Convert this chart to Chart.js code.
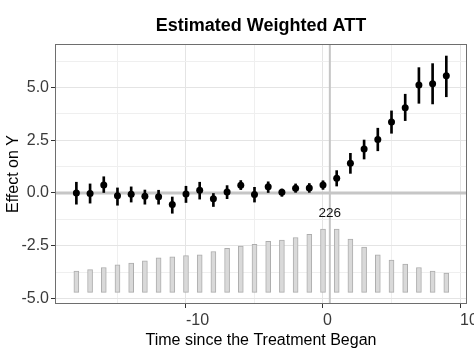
<!DOCTYPE html>
<html><head><meta charset="utf-8">
<script src="https://cdn.jsdelivr.net/npm/chart.js@4/dist/chart.umd.min.js"></script>
<style>html,body{margin:0;padding:0;background:#fff}</style>
</head><body>
<canvas id="c" width="474" height="355"></canvas>
<script>
// ---- data ----
const times  = [-18,-17,-16,-15,-14,-13,-12,-11,-10,-9,-8,-7,-6,-5,-4,-3,-2,-1,0,1,2,3,4,5,6,7,8,9];
const att    = [0.00,-0.02,0.38,-0.13,-0.06,-0.16,-0.18,-0.55,-0.05,0.13,-0.27,0.05,0.37,-0.07,0.29,0.03,0.22,0.24,0.38,0.70,1.41,2.09,2.54,3.36,4.04,5.12,5.18,5.56];
const ciLow  = [-0.53,-0.48,0.00,-0.58,-0.43,-0.53,-0.53,-0.96,-0.45,-0.29,-0.64,-0.27,0.16,-0.43,0.00,-0.16,0.03,0.03,0.17,0.33,0.93,1.61,2.00,2.83,3.43,4.25,4.22,4.56];
const ciHigh = [0.51,0.43,0.77,0.24,0.29,0.14,0.13,-0.19,0.32,0.51,0.00,0.35,0.59,0.27,0.53,0.19,0.43,0.45,0.58,1.06,1.88,2.51,3.07,3.89,4.68,5.94,6.13,6.49];
const counts = [76,81,89,98,105,113,123,127,131,134,146,157,165,172,182,187,196,207,226,226,190,162,134,115,101,89,76,69];
const xMajorTicks = [-10,0,10];
const xMinorTicks = [-15,-5,5];
const yMajorTicks = [-5,-2.5,0,2.5,5];
const yMinorTicks = [-3.75,-1.25,1.25,3.75,6.25];
const treatLine = 0.5;
const barBase = -4.71, barMaxHeight = 3.0, countLabelY = -0.95;

const FONT = "'Liberation Sans', Arial, Helvetica, sans-serif";
const maxCount = Math.max(...counts);
const barData = times.map((t,i)=>({x:t, y:[barBase, barBase + counts[i]/maxCount*barMaxHeight]}));
const ciData  = times.map((t,i)=>({x:t, y:[ciLow[i], ciHigh[i]]}));
const ptData  = times.map((t,i)=>({x:t, y:att[i]}));
const isMajor = (c, list) => !!(c && c.tick && list.includes(c.tick.value));

const refPlugin = {
  id:'ref',
  beforeDatasetsDraw(chart){
    const {ctx, chartArea:a, scales:{x,y}} = chart;
    ctx.save();
    ctx.beginPath(); ctx.rect(a.left,a.top,a.right-a.left,a.bottom-a.top); ctx.clip();
    ctx.strokeStyle='#c6c6c6';
    ctx.lineWidth=3;
    const y0=y.getPixelForValue(0);
    ctx.beginPath(); ctx.moveTo(a.left,y0); ctx.lineTo(a.right,y0); ctx.stroke();
    ctx.lineWidth=2;
    const xv=x.getPixelForValue(treatLine);
    ctx.beginPath(); ctx.moveTo(xv,a.top); ctx.lineTo(xv,a.bottom); ctx.stroke();
    ctx.restore();
  },
  afterDatasetsDraw(chart){
    const {ctx, chartArea:a, scales:{x,y}} = chart;
    ctx.save();
    ctx.fillStyle='#111';
    ctx.font = '13.5px ' + FONT;
    ctx.textAlign='center'; ctx.textBaseline='middle';
    ctx.fillText(String(maxCount), x.getPixelForValue(treatLine), y.getPixelForValue(countLabelY));
    ctx.strokeStyle='#6e6e6e'; ctx.lineWidth=1;
    ctx.strokeRect(Math.round(a.left)+0.5, Math.round(a.top)+0.5, Math.round(a.right-a.left)-1, Math.round(a.bottom-a.top)-1);
    ctx.restore();
  }
};

new Chart(document.getElementById('c'), {
  type:'bar',
  data:{ datasets:[
    {type:'scatter', data:ptData, backgroundColor:'#000', borderColor:'#000', pointRadius:3.5, pointBorderWidth:0, order:0},
    {type:'bar', data:ciData, backgroundColor:'#000', barThickness:2, grouped:false, order:1},
    {type:'bar', data:barData, backgroundColor:'#d9d9d9', borderColor:'#adadad', borderWidth:1, borderSkipped:false, barThickness:5, grouped:false, order:2}
  ]},
  options:{
    responsive:false, animation:false, devicePixelRatio:1,
    layout:{padding:{left:0,right:7,top:0,bottom:0}},
    plugins:{
      legend:{display:false}, tooltip:{enabled:false},
      title:{display:true, text:'Estimated Weighted ATT', color:'#000', fullSize:false,
        font:{family:FONT, size:18, weight:'bold'}, padding:{top:15, bottom:7.4}}
    },
    scales:{
      x:{type:'linear', min:-19.56, max:10.51, offset:false,
        afterBuildTicks: s => { s.ticks = [...xMinorTicks, ...xMajorTicks].sort((a,b)=>a-b).map(v=>({value:v})); },
        ticks:{autoSkip:false, maxRotation:0, align:'start', padding:3, color:'#3a3a3a', font:{family:FONT, size:16},
          callback:(v)=> xMajorTicks.includes(v) ? String(v) : ''},
        grid:{offset:false, color:c=> isMajor(c,xMajorTicks)?'#e4e4e4':'#efefef', lineWidth:1, tickLength:4,
          tickColor:c=> isMajor(c,xMajorTicks)?'#333':'rgba(0,0,0,0)'},
        border:{display:false},
        title:{display:true, text:'Time since the Treatment Began', color:'#000', font:{family:FONT, size:16}, padding:{top:0,bottom:5}},
        afterFit: s => { s.height = 51; s.paddingLeft = 0; s.paddingRight = 0; }
      },
      y:{type:'linear', min:-5.26, max:7.06,
        afterBuildTicks: s => { s.ticks = [...yMinorTicks, ...yMajorTicks].sort((a,b)=>a-b).map(v=>({value:v})); },
        ticks:{autoSkip:false, padding:2, color:'#3a3a3a', font:{family:FONT, size:16},
          callback:(v)=> yMajorTicks.includes(v) ? v.toFixed(1) : ''},
        grid:{offset:false, color:c=> isMajor(c,yMajorTicks)?'#e4e4e4':'#efefef', lineWidth:1, tickLength:4,
          tickColor:c=> isMajor(c,yMajorTicks)?'#333':'rgba(0,0,0,0)'},
        border:{display:false},
        title:{display:true, text:'Effect on Y', color:'#000', font:{family:FONT, size:16}, padding:{top:4.4,bottom:0}},
        afterFit: s => { s.width = 55; s.paddingTop = 0; s.paddingBottom = 0; }
      }
    }
  },
  plugins:[refPlugin]
});
</script>
</body></html>
